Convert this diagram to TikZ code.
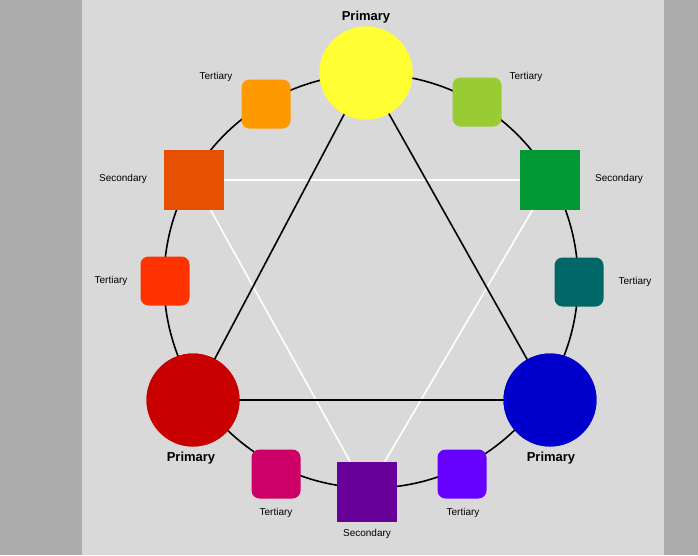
\documentclass[tikz,border=0pt]{standalone}
\usepackage{fontspec}
\setmainfont{Liberation Sans}
\begin{document}
\begin{tikzpicture}[x=1pt,y=-1pt,
  sq/.style={minimum size=49pt,rounded corners=8pt,inner sep=0pt},
  bigsq/.style={minimum size=60pt,inner sep=0pt},
  prim/.style={circle,minimum size=93pt,inner sep=0pt},
  lab/.style={font=\fontsize{10}{12}\selectfont},
  plab/.style={font=\bfseries\fontsize{13}{15}\selectfont}]
\fill[gray!65] (0,0) rectangle (698,555);
\fill[gray!30] (82,0) rectangle (664,555);
\useasboundingbox (0,0) rectangle (698,555);
\coordinate (c) at (371,281);
\draw[line width=1.6pt] (c) circle (207);
\node[prim,fill={rgb,255:red,255;green,255;blue,51}] (Y) at (366,73) {};
\node[prim,fill={rgb,255:red,200;green,0;blue,0}] (R) at (193,400) {};
\node[prim,fill={rgb,255:red,0;green,0;blue,204}] (B) at (550,400) {};
\node[bigsq,fill={rgb,255:red,230;green,80;blue,0}] (O) at (194,180) {};
\node[bigsq,fill={rgb,255:red,0;green,153;blue,51}] (G) at (550,180) {};
\node[bigsq,fill={rgb,255:red,102;green,0;blue,153}] (P) at (367,492) {};
\draw[white,line width=1.6pt] (O.center)--(G.center)--(P.center)--cycle;
\draw[black,line width=1.6pt] (Y.center)--(R.center)--(B.center)--cycle;
\node[prim,fill={rgb,255:red,255;green,255;blue,51}] at (366,73) {};
\node[prim,fill={rgb,255:red,200;green,0;blue,0}] at (193,400) {};
\node[prim,fill={rgb,255:red,0;green,0;blue,204}] at (550,400) {};
\node[bigsq,fill={rgb,255:red,230;green,80;blue,0}] at (194,180) {};
\node[bigsq,fill={rgb,255:red,0;green,153;blue,51}] at (550,180) {};
\node[bigsq,fill={rgb,255:red,102;green,0;blue,153}] at (367,492) {};
\node[sq,fill={rgb,255:red,255;green,153;blue,0}] (t1) at (266,104) {};
\node[sq,fill={rgb,255:red,153;green,204;blue,51}] (t2) at (477,102) {};
\node[sq,fill={rgb,255:red,255;green,51;blue,0}] (t3) at (165,281) {};
\node[sq,fill={rgb,255:red,0;green,102;blue,102}] (t4) at (579,282) {};
\node[sq,fill={rgb,255:red,204;green,0;blue,102}] (t5) at (276,474) {};
\node[sq,fill={rgb,255:red,102;green,0;blue,255}] (t6) at (462,474) {};
\node[plab] at (366,17) {Primary};
\node[plab] at (191,458) {Primary};
\node[plab] at (551,458) {Primary};
\node[lab] at (216,77) {Tertiary};
\node[lab] at (526,77) {Tertiary};
\node[lab] at (111,281) {Tertiary};
\node[lab] at (635,282) {Tertiary};
\node[lab] at (276,513) {Tertiary};
\node[lab] at (463,513) {Tertiary};
\node[lab] at (123,179) {Secondary};
\node[lab] at (619,179) {Secondary};
\node[lab] at (367,534) {Secondary};
\end{tikzpicture}
\end{document}
